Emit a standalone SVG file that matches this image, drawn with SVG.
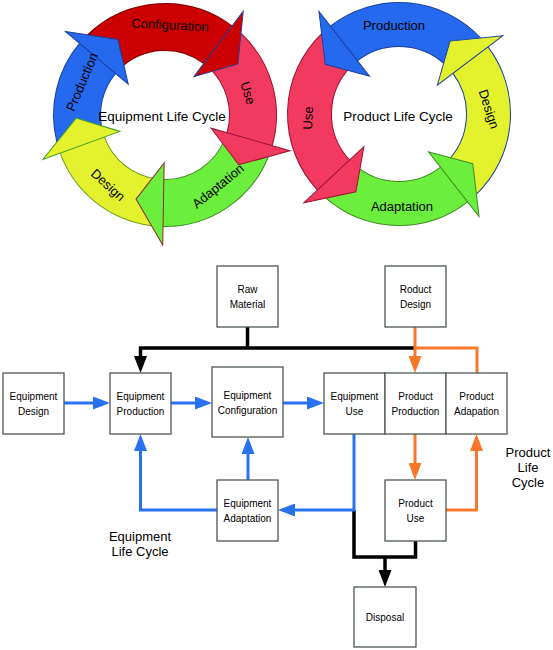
<svg xmlns="http://www.w3.org/2000/svg" xmlns:xlink="http://www.w3.org/1999/xlink" width="553" height="650" viewBox="0 0 553 650">
<style>
.t{font-family:"Liberation Sans",Arial,sans-serif;fill:#000}
.ring{font-size:13px}
.box rect{fill:#fff;stroke:#4d5656;stroke-width:1.3}
.box text{font-size:10px;text-anchor:middle}
.lab{font-size:13px;text-anchor:middle}
.arc{fill:none}
.blue{stroke:#2469ee}.blueo{stroke:#1a3fa0}
.red{stroke:#cc0000}.redo{stroke:#7a0000}
.pink{stroke:#f23a5e}.pinko{stroke:#9c1030}
.green{stroke:#6cee3c}.greeno{stroke:#3f8a25}
.yel{stroke:#e3f22c}.yelo{stroke:#6f9a20}
.cb{fill:none;stroke:#2872f0;stroke-width:3}
.ck{fill:none;stroke:#000;stroke-width:3.5}
.co{fill:none;stroke:#f7782a;stroke-width:3}
</style>
<defs>
<polygon id="hcw" points="130,0 84.6,27.5 48,0"/>
<polygon id="hccw" points="130,0 84.6,-27.5 48,0"/>
<marker id="mb" markerUnits="userSpaceOnUse" markerWidth="17" markerHeight="13" refX="0" refY="6.5" orient="auto" viewBox="0 0 17 13"><path d="M0,0 L17,6.5 L0,13 z" fill="#2872f0"/></marker>
<marker id="mk" markerUnits="userSpaceOnUse" markerWidth="17" markerHeight="13" refX="0" refY="6.5" orient="auto" viewBox="0 0 17 13"><path d="M0,0 L17,6.5 L0,13 z" fill="#000"/></marker>
<marker id="mo" markerUnits="userSpaceOnUse" markerWidth="17" markerHeight="13" refX="0" refY="6.5" orient="auto" viewBox="0 0 17 13"><path d="M0,0 L17,6.5 L0,13 z" fill="#f7782a"/></marker>
</defs>

<!-- Equipment life cycle -->
<g id="equipment-cycle">
<g id="eq-body-outlines" stroke-width="48">
<circle class="arc blueo" cx="165" cy="115" r="88" transform="rotate(166 165 115)" stroke-dasharray="82.94 1000"/>
<circle class="arc redo" cx="165" cy="115" r="88" transform="rotate(226 165 115)" stroke-dasharray="124.41 1000"/>
<circle class="arc pinko" cx="165" cy="115" r="88" transform="rotate(313 165 115)" stroke-dasharray="96.76 1000"/>
<circle class="arc greeno" cx="165" cy="115" r="88" transform="rotate(22 165 115)" stroke-dasharray="105.98 1000"/>
<circle class="arc yelo" cx="165" cy="115" r="88" transform="rotate(97 165 115)" stroke-dasharray="96.76 1000"/>
</g>
<g id="eq-bodies" stroke-width="46">
<circle class="arc blue" cx="165" cy="115" r="88" transform="rotate(166 165 115)" stroke-dasharray="82.94 1000"/>
<circle class="arc red" cx="165" cy="115" r="88" transform="rotate(226 165 115)" stroke-dasharray="124.41 1000"/>
<circle class="arc pink" cx="165" cy="115" r="88" transform="rotate(313 165 115)" stroke-dasharray="96.76 1000"/>
<circle class="arc green" cx="165" cy="115" r="88" transform="rotate(22 165 115)" stroke-dasharray="105.98 1000"/>
<circle class="arc yel" cx="165" cy="115" r="88" transform="rotate(97 165 115)" stroke-dasharray="96.76 1000"/>
</g>
<g id="eq-heads" stroke-width="1" stroke-linejoin="miter">
<use xlink:href="#hcw" href="#hcw" fill="#2469ee" stroke="#1a3fa0" transform="translate(165 115) rotate(220)"/>
<use xlink:href="#hcw" href="#hcw" fill="#cc0000" stroke="#2040a0" transform="translate(165 115) rotate(307)"/>
<use xlink:href="#hcw" href="#hcw" fill="#f23a5e" stroke="#9c1030" transform="translate(165 115) rotate(16)"/>
<use xlink:href="#hcw" href="#hcw" fill="#6cee3c" stroke="#8a2a2a" transform="translate(165 115) rotate(91)"/>
<use xlink:href="#hcw" href="#hcw" fill="#e3f22c" stroke="#3f9a25" transform="translate(165 115) rotate(160)"/>
</g>
<g id="eq-labels" class="t ring" text-anchor="middle">
<text transform="translate(170 25) rotate(3)" y="4.5">Configuration</text>
<text transform="translate(248 93) rotate(73)" y="4.5">Use</text>
<text transform="translate(218 186) rotate(-39)" y="4.5">Adaptation</text>
<text transform="translate(108 185) rotate(42)" y="4.5">Design</text>
<text transform="translate(82 82) rotate(-67)" y="4.5">Production</text>
<text x="162" y="121" font-size="13.5">Equipment Life Cycle</text>
</g>
</g>

<!-- Product life cycle -->
<g id="product-cycle">
<g id="pr-body-outlines" stroke-width="45">
<circle class="arc blueo" cx="399" cy="114" r="89.5" transform="rotate(232 399 114)" stroke-dasharray="132.78 1000"/>
<circle class="arc pinko" cx="399" cy="114" r="89.5" transform="rotate(137 399 114)" stroke-dasharray="139.03 1000"/>
<circle class="arc greeno" cx="399" cy="114" r="89.5" transform="rotate(52 399 114)" stroke-dasharray="123.41 1000"/>
<circle class="arc blueo" cx="399" cy="114" r="89.5" transform="rotate(-37 399 114)" stroke-dasharray="129.65 1000"/>
</g>
<g id="pr-bodies" stroke-width="43">
<circle class="arc blue" cx="399" cy="114" r="89.5" transform="rotate(232 399 114)" stroke-dasharray="132.78 1000"/>
<circle class="arc pink" cx="399" cy="114" r="89.5" transform="rotate(137 399 114)" stroke-dasharray="139.03 1000"/>
<circle class="arc green" cx="399" cy="114" r="89.5" transform="rotate(52 399 114)" stroke-dasharray="123.41 1000"/>
<circle class="arc yel" cx="399" cy="114" r="89.5" transform="rotate(-37 399 114)" stroke-dasharray="129.65 1000"/>
</g>
<g id="pr-heads" stroke-width="1">
<use xlink:href="#hccw" href="#hccw" fill="#2469ee" stroke="#1a3fa0" transform="translate(399 114) rotate(232)"/>
<use xlink:href="#hccw" href="#hccw" fill="#f23a5e" stroke="#9c1030" transform="translate(399 114) rotate(137)"/>
<use xlink:href="#hccw" href="#hccw" fill="#6cee3c" stroke="#3f8a25" transform="translate(399 114) rotate(52)"/>
<use xlink:href="#hccw" href="#hccw" fill="#e3f22c" stroke="#2040a0" transform="translate(399 114) rotate(323)"/>
</g>
<g id="pr-labels" class="t ring" text-anchor="middle">
<text transform="translate(394 25)" y="4.5">Production</text>
<text transform="translate(489 109) rotate(72)" y="4.5">Design</text>
<text transform="translate(402 206)" y="4.5">Adaptation</text>
<text transform="translate(308 118) rotate(-88)" y="4.5">Use</text>
<text x="398" y="121" font-size="13.5">Product Life Cycle</text>
</g>
</g>

<!-- Connectors -->
<g id="connectors">
<path class="ck" d="M247.5,327 V348"/>
<path class="ck" d="M415,348 H140.5 V356" marker-end="url(#mk)"/>
<path class="ck" d="M354,510 V557 H415.5 V541"/>
<path class="ck" d="M385,557 V570" marker-end="url(#mk)"/>
<path class="cb" d="M64,403 H93" marker-end="url(#mb)"/>
<path class="cb" d="M171,403 H195" marker-end="url(#mb)"/>
<path class="cb" d="M283,403 H307" marker-end="url(#mb)"/>
<path class="cb" d="M354,434 V510 H295" marker-end="url(#mb)"/>
<path class="cb" d="M217,510 H140.5 V451" marker-end="url(#mb)"/>
<path class="cb" d="M248,480 V454" marker-end="url(#mb)"/>
<path class="co" d="M415,327 V356" marker-end="url(#mo)"/>
<path class="co" d="M415,348 H477 V373"/>
<path class="co" d="M415,434 V463" marker-end="url(#mo)"/>
<path class="co" d="M446,510 H476.5 V451" marker-end="url(#mo)"/>
</g>

<!-- Nodes -->
<g id="raw-material" class="box t"><rect x="217" y="266" width="61" height="61"/><text x="247.5" y="293">Raw</text><text x="247.5" y="308">Material</text></g>
<g id="roduct-design" class="box t"><rect x="385" y="266" width="61" height="61"/><text x="415.5" y="293">Roduct</text><text x="415.5" y="308">Design</text></g>
<g id="equipment-design" class="box t"><rect x="3" y="373" width="61" height="61"/><text x="33.5" y="400">Equipment</text><text x="33.5" y="415">Design</text></g>
<g id="equipment-production" class="box t"><rect x="110" y="373" width="61" height="61"/><text x="140.5" y="400">Equipment</text><text x="140.5" y="415">Production</text></g>
<g id="equipment-configuration" class="box t"><rect x="212" y="367" width="71" height="70"/><text x="247.5" y="399">Equipment</text><text x="247.5" y="414">Configuration</text></g>
<g id="equipment-use" class="box t"><rect x="324" y="373" width="61" height="61"/><text x="354.5" y="400">Equipment</text><text x="354.5" y="415">Use</text></g>
<g id="product-production" class="box t"><rect x="385" y="373" width="61" height="61"/><text x="415.5" y="400">Product</text><text x="415.5" y="415">Production</text></g>
<g id="product-adapation" class="box t"><rect x="446" y="373" width="61" height="61"/><text x="476.5" y="400">Product</text><text x="476.5" y="415">Adapation</text></g>
<g id="equipment-adaptation" class="box t"><rect x="217" y="480" width="61" height="61"/><text x="247.5" y="506.5">Equipment</text><text x="247.5" y="521.5">Adaptation</text></g>
<g id="product-use" class="box t"><rect x="385" y="480" width="61" height="61"/><text x="415.5" y="506.5">Product</text><text x="415.5" y="521.5">Use</text></g>
<g id="disposal" class="box t"><rect x="354" y="587" width="62" height="60"/><text x="385" y="620.5">Disposal</text></g>

<!-- Labels -->
<g id="equipment-life-cycle-label" class="t lab"><text x="140" y="541">Equipment</text><text x="140" y="556">Life Cycle</text></g>
<g id="product-life-cycle-label" class="t lab"><text x="528" y="456.5">Product</text><text x="528" y="471.5">Life</text><text x="528" y="486.5">Cycle</text></g>
</svg>
